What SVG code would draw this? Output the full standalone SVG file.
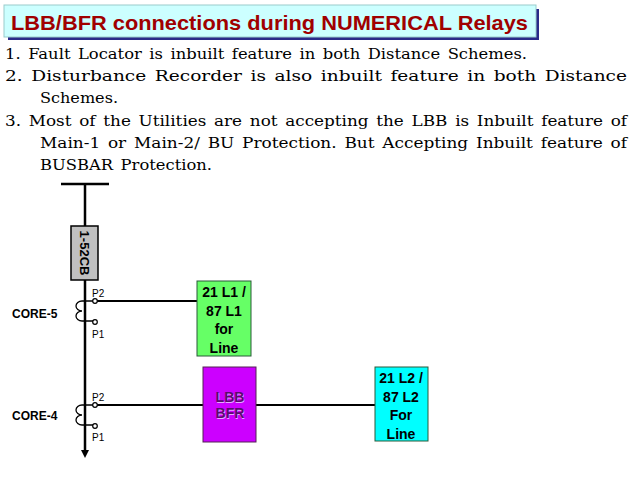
<svg xmlns="http://www.w3.org/2000/svg" width="638" height="478" viewBox="0 0 638 478">
<style>
.b{font-family:"DejaVu Serif",serif;font-size:14px;fill:#000;word-spacing:2px}
.s{font-family:"Liberation Sans",Arial,sans-serif;font-weight:bold}
.box{stroke:#2a5a3a;stroke-width:1}
.w{stroke:#000;stroke-width:2.5;fill:none}
.c{stroke:#000;stroke-width:1.2;fill:#fff}
</style>
<defs><marker id="a" markerWidth="8" markerHeight="8" refX="4" refY="4" orient="auto" markerUnits="userSpaceOnUse"><path d="M0,0L8,4L0,8z" fill="#000"/></marker></defs>
<g id="title">
<rect x="8" y="9" width="531" height="31" fill="#2a2a8a"/>
<rect x="4" y="5" width="532" height="32" fill="#ccffff" stroke="#9cc" stroke-width="1"/>
<text x="11" y="30" font-family="Liberation Sans,Arial,sans-serif" font-weight="bold" font-size="21" fill="#a00000" textLength="517" lengthAdjust="spacingAndGlyphs">LBB/BFR connections during NUMERICAL Relays</text>
</g>
<g id="body">
<text class="b" x="5" y="59" textLength="522" lengthAdjust="spacingAndGlyphs">1.  Fault Locator is inbuilt feature in both Distance Schemes.</text>
<text class="b" x="5" y="81" textLength="622" lengthAdjust="spacingAndGlyphs">2.  Disturbance  Recorder  is  also  inbuilt  feature  in  both  Distance</text>
<text class="b" x="40" y="103" textLength="78" lengthAdjust="spacingAndGlyphs">Schemes.</text>
<text class="b" x="5" y="126" textLength="622" lengthAdjust="spacingAndGlyphs">3.  Most of the Utilities are not accepting the LBB is Inbuilt feature of</text>
<text class="b" x="40" y="148" textLength="587" lengthAdjust="spacingAndGlyphs">Main-1 or Main-2/ BU Protection. But Accepting Inbuilt feature of</text>
<text class="b" x="40" y="170" textLength="172" lengthAdjust="spacingAndGlyphs">BUSBAR Protection.</text>
</g>
<g id="connectors">
<line x1="61" y1="184" x2="109" y2="184" class="w"/>
<line x1="85" y1="184" x2="85" y2="454" class="w" marker-end="url(#a)"/>
<line x1="95" y1="301" x2="197" y2="301" stroke="#000" stroke-width="2"/>
<line x1="95" y1="405" x2="375" y2="405" stroke="#000" stroke-width="2"/>
<path d="M95,301 H82 A6,5 0 0 0 82,311 A6,5 0 0 0 82,321 H95" fill="none" stroke="#000" stroke-width="1.3"/>
<path d="M95,405 H82 A6,5 0 0 0 82,415 A6,5 0 0 0 82,425 H95" fill="none" stroke="#000" stroke-width="1.3"/>
<circle cx="95" cy="301" r="2.3" class="c"/><circle cx="95" cy="322" r="2.3" class="c"/>
<circle cx="95" cy="405" r="2.3" class="c"/><circle cx="95" cy="426" r="2.3" class="c"/>
</g>
<g id="cb">
<rect x="71" y="226" width="27" height="54" fill="#c0c0c0" stroke="#000" stroke-width="1.5"/>
<text class="s" font-size="13" fill="#000" transform="translate(80,253) rotate(90)" text-anchor="middle">1-52CB</text>
</g>
<g id="labels" class="s" fill="#000">
<text x="92" y="297" font-size="10" font-weight="normal">P2</text>
<text x="92" y="338" font-size="10" font-weight="normal">P1</text>
<text x="92" y="401" font-size="10" font-weight="normal">P2</text>
<text x="92" y="441" font-size="10" font-weight="normal">P1</text>
<text x="12" y="318" font-size="12">CORE-5</text>
<text x="12" y="420" font-size="12">CORE-4</text>
</g>
<g id="relay1">
<rect x="197" y="281" width="54" height="75" fill="#66ff66" class="box"/>
<text class="s" font-size="14" fill="#000" text-anchor="middle"><tspan x="224" y="297">21 L1 /</tspan><tspan x="224" y="316">87 L1</tspan><tspan x="224" y="334">for</tspan><tspan x="224" y="353">Line</tspan></text>
</g>
<g id="lbb">
<rect x="203" y="367" width="53" height="75" fill="#cc00ff" stroke="#552255"/>
<text class="s" font-size="14" text-anchor="middle" fill="#e8a8ff"><tspan x="230.6" y="402.6">LBB</tspan><tspan x="230.6" y="418.6">BFR</tspan></text>
<text class="s" font-size="14" text-anchor="middle" fill="#5a0a70"><tspan x="230" y="402">LBB</tspan><tspan x="230" y="418">BFR</tspan></text>
</g>
<g id="relay2">
<rect x="375" y="367" width="53" height="74" fill="#00ffff" class="box"/>
<text class="s" font-size="14" fill="#000" text-anchor="middle"><tspan x="401" y="383">21 L2 /</tspan><tspan x="401" y="402">87 L2</tspan><tspan x="401" y="420">For</tspan><tspan x="401" y="439">Line</tspan></text>
</g>
</svg>
